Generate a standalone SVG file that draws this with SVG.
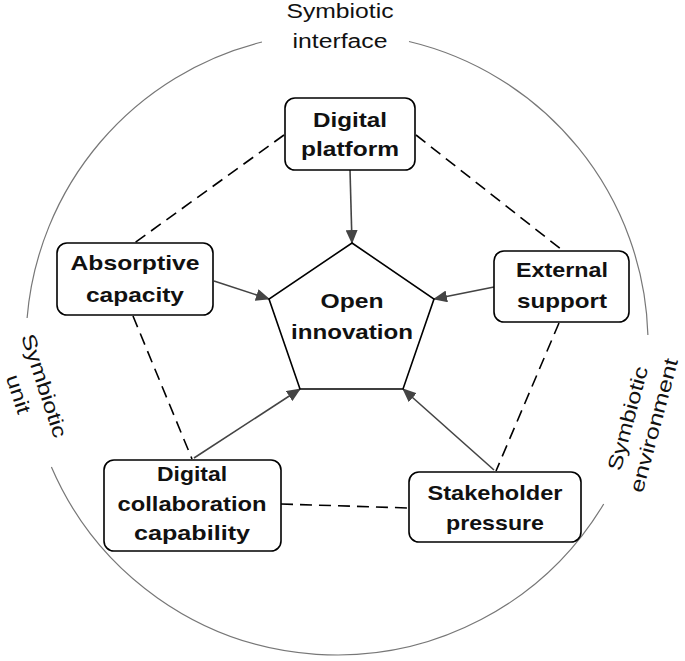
<svg xmlns="http://www.w3.org/2000/svg" width="685" height="661" viewBox="0 0 685 661">
<style>
.box{fill:#fff;stroke:#000;stroke-width:1.6}
.t{font-family:"Liberation Sans",Arial,sans-serif;font-weight:bold;font-size:21px;text-anchor:middle;fill:#111}
.l{font-family:"Liberation Sans",Arial,sans-serif;font-size:20px;text-anchor:middle;fill:#111}
.arr{stroke:#444;stroke-width:1.6;fill:none;marker-end:url(#ah)}
.dash{stroke:#000;stroke-width:1.6;fill:none;stroke-dasharray:12,7}
.ring{stroke:#777;stroke-width:1.2;fill:none}
</style>
<defs>
<marker id="ah" markerWidth="14" markerHeight="12" refX="13" refY="6" orient="auto" markerUnits="userSpaceOnUse" viewBox="0 0 14 12">
<path d="M0,0 L14,6 L0,12 Z" fill="#444"/>
</marker>
</defs>
<rect width="685" height="661" fill="#fff"/>
<g id="ring">
<path class="ring" d="M409,41.5 A311,311 0 0 1 647.9,335"/>
<path class="ring" d="M603.7,504 A311,311 0 0 1 51.4,467"/>
<path class="ring" d="M27.1,318 A311,311 0 0 1 262,42"/>
<text class="l" x="340" y="18" textLength="107" lengthAdjust="spacingAndGlyphs">Symbiotic</text>
<text class="l" x="340" y="48" textLength="95" lengthAdjust="spacingAndGlyphs">interface</text>
<g transform="translate(31,390) rotate(72)"><text class="l" x="0" y="-7" textLength="108" lengthAdjust="spacingAndGlyphs">Symbiotic</text><text class="l" x="0" y="20" textLength="40" lengthAdjust="spacingAndGlyphs">unit</text></g>
<g transform="translate(641,422) rotate(-75)"><text class="l" x="0" y="-7" textLength="107" lengthAdjust="spacingAndGlyphs">Symbiotic</text><text class="l" x="0" y="20" textLength="138" lengthAdjust="spacingAndGlyphs">environment</text></g>
</g>
<g id="connectors">
<line class="dash" x1="284" y1="135" x2="133" y2="244"/>
<line class="dash" x1="416" y1="135" x2="562" y2="250"/>
<line class="dash" x1="133" y1="316" x2="192" y2="459"/>
<line class="dash" x1="559" y1="323" x2="496" y2="471"/>
<line class="dash" x1="281" y1="504" x2="409" y2="508"/>
<line class="arr" x1="350" y1="170" x2="352" y2="243"/>
<line class="arr" x1="214" y1="281" x2="269" y2="299"/>
<line class="arr" x1="494" y1="287" x2="434" y2="299"/>
<line class="arr" x1="194" y1="458" x2="300" y2="389"/>
<line class="arr" x1="494" y1="470" x2="403" y2="389"/>
</g>
<g id="open-innovation">
<polygon class="box" points="352,243 434,299 403,389 300,389 269,299"/>
<text class="t" x="352" y="308" textLength="63" lengthAdjust="spacingAndGlyphs">Open</text>
<text class="t" x="352" y="339" textLength="122" lengthAdjust="spacingAndGlyphs">innovation</text>
</g>
<g id="digital-platform">
<rect class="box" x="285" y="98" width="130" height="72" rx="10"/>
<text class="t" x="350" y="127" textLength="74" lengthAdjust="spacingAndGlyphs">Digital</text>
<text class="t" x="350" y="156" textLength="98" lengthAdjust="spacingAndGlyphs">platform</text>
</g>
<g id="absorptive-capacity">
<rect class="box" x="57" y="243" width="156" height="72" rx="10"/>
<text class="t" x="135" y="270" textLength="129" lengthAdjust="spacingAndGlyphs">Absorptive</text>
<text class="t" x="135" y="302" textLength="98" lengthAdjust="spacingAndGlyphs">capacity</text>
</g>
<g id="external-support">
<rect class="box" x="494" y="251" width="135" height="71" rx="10"/>
<text class="t" x="562" y="277" textLength="92" lengthAdjust="spacingAndGlyphs">External</text>
<text class="t" x="562" y="308" textLength="90" lengthAdjust="spacingAndGlyphs">support</text>
</g>
<g id="digital-collaboration">
<rect class="box" x="104" y="460" width="177" height="91" rx="10"/>
<text class="t" x="192" y="481" textLength="70" lengthAdjust="spacingAndGlyphs">Digital</text>
<text class="t" x="192" y="511" textLength="149" lengthAdjust="spacingAndGlyphs">collaboration</text>
<text class="t" x="192" y="540" textLength="116" lengthAdjust="spacingAndGlyphs">capability</text>
</g>
<g id="stakeholder-pressure">
<rect class="box" x="409" y="472" width="172" height="70" rx="10"/>
<text class="t" x="495" y="500" textLength="135" lengthAdjust="spacingAndGlyphs">Stakeholder</text>
<text class="t" x="495" y="530" textLength="98" lengthAdjust="spacingAndGlyphs">pressure</text>
</g>
</svg>
